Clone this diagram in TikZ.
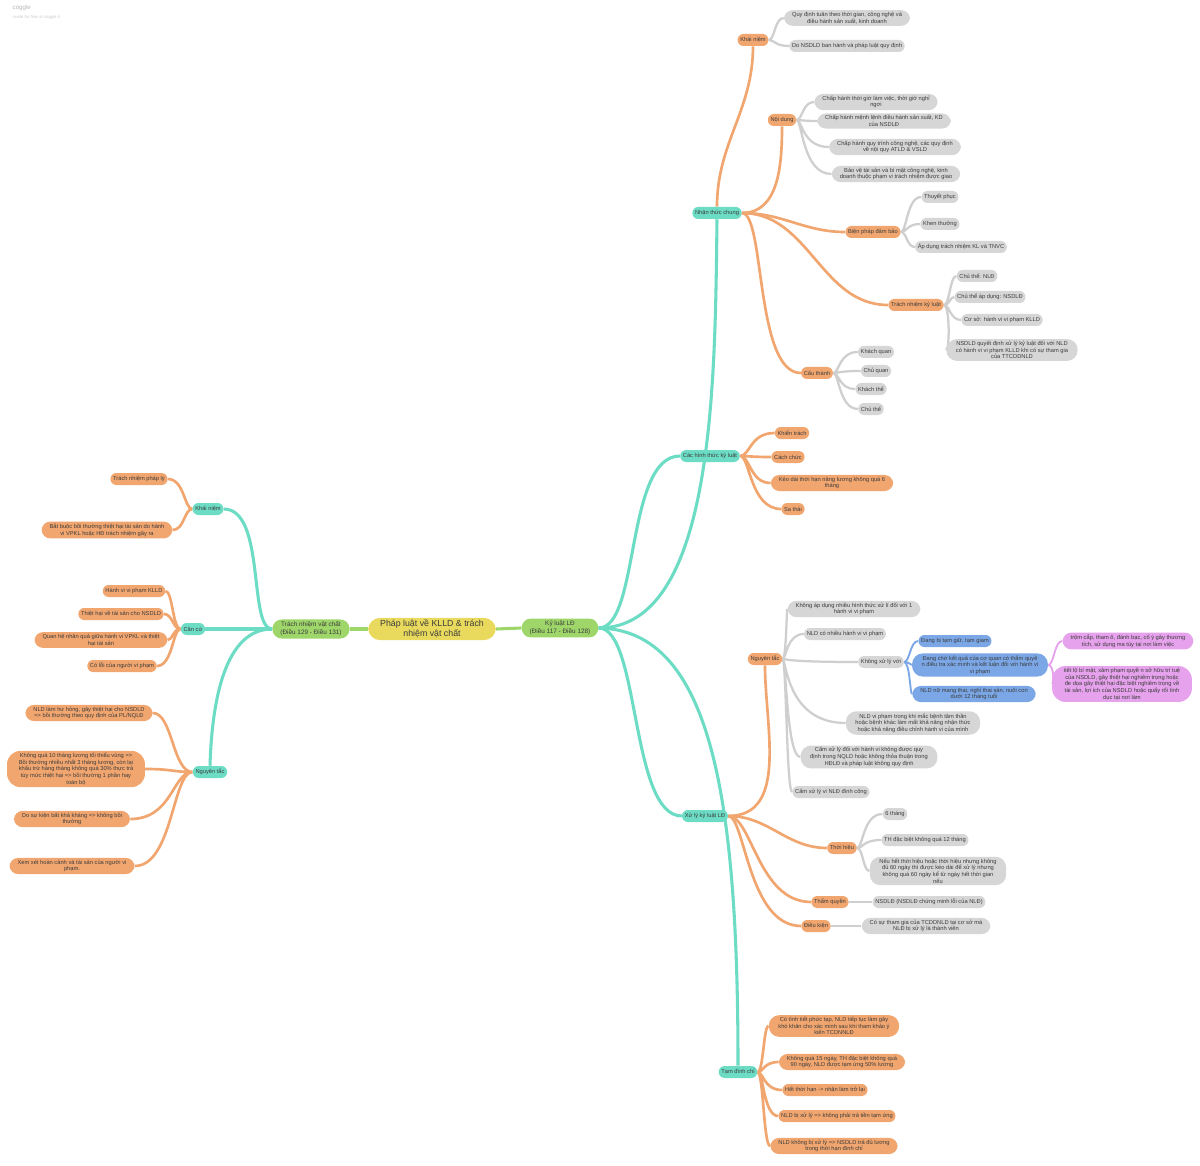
\documentclass[tikz,border=0pt]{standalone}
\usepackage{fontspec}
\setmainfont{Liberation Sans}
\usetikzlibrary{calc, backgrounds}

\definecolor{tealn}{HTML}{6CDCC5}
\definecolor{orangen}{HTML}{F2A66F}
\definecolor{grayn}{HTML}{D6D6D6}
\definecolor{grayl}{HTML}{CFCFCF}
\definecolor{greenn}{HTML}{9ED66A}
\definecolor{yellown}{HTML}{E9DA5D}
\definecolor{bluen}{HTML}{7BA7E6}
\definecolor{violetn}{HTML}{E6A2EC}
\definecolor{txt}{HTML}{3C3C3C}
\definecolor{mark}{HTML}{B8B8B8}

\begin{document}
\begin{tikzpicture}[
		x=0.75pt, y=-0.75pt, % one unit = one pixel of the map
		box/.style={
				rounded corners=4.4pt,
				inner xsep=2pt,
				inner ysep=1.5pt,
				minimum height=9pt,
				align=center,
				text=txt,
				font=\fontsize{4.3}{5}\selectfont
			},
		big/.style={rounded corners=6.5pt, inner xsep=6pt},  % two lines
		bigger/.style={rounded corners=8pt, inner xsep=7.2pt}, % three or four lines
		biggest/.style={rounded corners=10pt, inner xsep=8.8pt},
		tbox/.style={box, fill=tealn},
		obox/.style={box, fill=orangen},
		gbox/.style={box, fill=grayn},
		bbox/.style={box, fill=bluen},
		pbox/.style={box, fill=violetn},
		mainbox/.style={box, fill=greenn, inner xsep=6pt, inner ysep=1.7pt, rounded corners=7pt,
				font=\fontsize{4.8}{6.2}\selectfont},
		rootbox/.style={box, fill=yellown, inner xsep=9pt, inner ysep=1.6pt, rounded corners=9pt,
				font=\fontsize{6.6}{7.4}\selectfont},
		cline/.style={draw=greenn, line width=2.3pt},
		tline/.style={draw=tealn, line width=2.3pt},
		oline/.style={draw=orangen, line width=2pt},
		gline/.style={draw=grayl, line width=1.7pt},
		bline/.style={draw=bluen, line width=1.4pt},
		pline/.style={draw=violetn, line width=1.4pt},
		% brace-like branch: out of the parent, down a short trunk, into the child
		rbr/.style={to path={.. controls ($(\tikztostart)+(#1,0)$) and ($(\tikztostart|-\tikztotarget)+(#1,0)$) .. (\tikztotarget)}},
		rbr/.default=6,
		lbr/.style={to path={.. controls ($(\tikztostart)+(-#1,0)$) and ($(\tikztostart|-\tikztotarget)+(-#1,0)$) .. (\tikztotarget)}},
		lbr/.default=6
	]
	\useasboundingbox (0,0) rectangle (1200,1166);

	\node[anchor=west, text=mark, font=\fontsize{4.6}{5}\selectfont] (logo) at (8,8) {coggle};
	\node[anchor=west, text=mark!70, font=\fontsize{3.2}{4}\selectfont] (made) at (8,17) {made for free at coggle.it};

	% centre
	\node[rootbox] (root) at (432,629) {Pháp luật về KLLD \& trách\\nhiệm vật chất};
	\node[mainbox] (tv) at (311,629) {Trách nhiệm vật chất\\(Điều 129 - Điều 131)};
	\node[mainbox] (kl) at (560,628) {Kỷ luật LĐ\\(Điều 117 - Điều 128)};

	% Kỷ luật LĐ
	\node[tbox] (ntc) at (717,213) {Nhận thức chung};
	\node[tbox] (hk) at (710,456) {Các hình thức kỷ luật};
	\node[tbox] (xl) at (705,816) {Xử lý kỷ luật LĐ};
	\node[tbox] (tdc) at (738,1072) {Tạm đình chỉ};

	% Nhận thức chung
	\node[obox] (kn) at (753,40) {Khái niệm};
	\node[obox] (nd) at (782,120) {Nội dung};
	\node[obox] (bp) at (873,232) {Biện pháp đảm bảo};
	\node[obox] (tn) at (916,305) {Trách nhiệm kỷ luật};
	\node[obox] (ct) at (817,373) {Cấu thành};

	\node[gbox, big] (kn1) at (847,18) {Quy định tuân theo thời gian, công nghệ và\\điều hành sản xuất, kinh doanh};
	\node[gbox] (kn2) at (847,46) {Do NSDLD ban hành và pháp luật quy định};

	\node[gbox, big] (nd1) at (876,102) {Chấp hành thời giờ làm việc, thời giờ nghỉ\\ngơi};
	\node[gbox, big] (nd2) at (884,121) {Chấp hành mệnh lệnh điều hành sản xuất, KD\\của NSDLĐ};
	\node[gbox, big] (nd3) at (895,147) {Chấp hành quy trình công nghệ, các quy định\\về nội quy ATLD \& VSLD};
	\node[gbox, big] (nd4) at (896,174) {Bảo vệ tài sản và bí mật công nghệ, kinh\\doanh thuộc phạm vi trách nhiệm được giao};

	\node[gbox] (bp1) at (940,197) {Thuyết phục};
	\node[gbox] (bp2) at (940,224) {Khen thưởng};
	\node[gbox] (bp3) at (961,247) {Áp dụng trách nhiệm KL và TNVC};

	\node[gbox] (tn1) at (977,276) {Chủ thể: NLĐ};
	\node[gbox] (tn2) at (990,297) {Chủ thể áp dụng: NSDLĐ};
	\node[gbox] (tn3) at (1002,320) {Cơ sở: hành vi vi phạm KLLD};
	\node[gbox, bigger] (tn4) at (1012,350) {NSDLD quyết định xử lý kỷ luật đối với NLD\\có hành vi vi phạm KLLD khi có sự tham gia\\của TTCDDNLD};

	\node[gbox] (ct1) at (876,352) {Khách quan};
	\node[gbox] (ct2) at (876,371) {Chủ quan};
	\node[gbox] (ct3) at (871,389) {Khách thể};
	\node[gbox] (ct4) at (871,409) {Chủ thể};

	% Các hình thức kỷ luật
	\node[obox] (hk1) at (792,433) {Khiển trách};
	\node[obox] (hk2) at (788,457) {Cách chức};
	\node[obox, big] (hk3) at (832,483) {Kéo dài thời hạn nâng lương không quá 6\\tháng};
	\node[obox] (hk4) at (793,509) {Sa thải};

	% Xử lý kỷ luật LĐ
	\node[obox] (nt) at (765,659) {Nguyên tắc};
	\node[obox] (th) at (842,848) {Thời hiệu};
	\node[obox] (tq) at (830,902) {Thẩm quyền};
	\node[obox] (dk) at (816,926) {Điều kiện};

	\node[gbox, big] (nt1) at (854,609) {Không áp dụng nhiều hình thức xử lí đối với 1\\hành vi vi phạm};
	\node[gbox] (nt2) at (845,634) {NLD có nhiều hành vi vi phạm};
	\node[gbox] (nt3) at (881,662) {Không xử lý với};
	\node[gbox, bigger] (nt4) at (913,723) {NLD vi phạm trong khi mắc bệnh tâm thần\\hoặc bệnh khác làm mất khả năng nhận thức\\hoặc khả năng điều chỉnh hành vi của mình};
	\node[gbox, bigger] (nt5) at (869,757) {Cấm xử lý đối với hành vi không được quy\\định trong NQLD hoặc không thỏa thuận trong\\HĐLĐ và pháp luật không quy định};
	\node[gbox] (nt6) at (831,792) {Cấm xử lý vi NLĐ đình công};

	\node[bbox] (kx1) at (955,641) {Đang bị tạm giữ, tạm giam};
	\node[bbox, bigger] (kx2) at (980,665) {Đang chờ kết quả của cơ quan có thẩm quyề\\n điều tra xác minh và kết luận đối với hành vi\\vi phạm};
	\node[bbox, big] (kx3) at (974,694) {NLD nữ mang thai, nghỉ thai sản, nuôi con\\dưới 12 tháng tuổi};

	\node[pbox, big] (dc1) at (1128,641) {trộm cắp, tham ô, đánh bạc, cố ý gây thương\\tích, sử dụng ma túy tại nơi làm việc};
	\node[pbox, biggest] (dc2) at (1122,684) {tiết lộ bí mật, xâm phạm quyề n sở hữu trí tuệ\\của NSDLD, gây thiệt hại nghiêm trọng hoặc\\đe dọa gây thiệt hại đặc biệt nghiêm trọng về\\tài sản, lợi ích của NSDLD hoặc quấy rối tình\\dục tại nơi làm};

	\node[gbox] (th1) at (895,814) {6 tháng};
	\node[gbox] (th2) at (925,840) {TH đặc biệt không quá 12 tháng};
	\node[gbox, bigger] (th3) at (938,871) {Nếu hết thời hiệu hoặc thời hiệu nhưng không\\đủ 60 ngày thì được kéo dài để xử lý nhưng\\không quá 60 ngày kể từ ngày hết thời gian\\nếu};
	\node[gbox] (tq1) at (929,902) {NSDLĐ (NSDLĐ chứng minh lỗi của NLĐ)};
	\node[gbox, big] (dk1) at (926,926) {Có sự tham gia của TCDDNLD tại cơ sở mà\\NLĐ bị xử lý là thành viên};

	% Tạm đình chỉ
	\node[obox, bigger] (td1) at (834,1026) {Có tình tiết phức tạp, NLD tiếp tục làm gây\\khó khăn cho xác minh sau khi tham khảo ý\\kiến TCDNNLĐ};
	\node[obox, big] (td2) at (842,1062) {Không quá 15 ngày, TH đặc biệt không quá\\90 ngày, NLD được tạm ứng 50\% lương};
	\node[obox] (td3) at (825,1090) {Hết thời hạn -> nhận làm trở lại};
	\node[obox] (td4) at (837,1116) {NLD bị xử lý => không phải trả tiền tạm ứng};
	\node[obox, big] (td5) at (834,1146) {NLD không bị xử lý => NSDLD trả đủ lương\\trong thời hạn đình chỉ};

	% Trách nhiệm vật chất
	\node[tbox] (lkn) at (208,509) {Khái niệm};
	\node[tbox] (lcc) at (193,629) {Căn cứ};
	\node[tbox] (lnt) at (210,772) {Nguyên tắc};

	\node[obox] (lkn1) at (139,479) {Trách nhiệm pháp lý};
	\node[obox, big] (lkn2) at (107,530) {Bắt buộc bồi thường thiệt hại tài sản do hành\\vi VPKL hoặc HĐ trách nhiệm gây ra};

	\node[obox] (lcc1) at (134,591) {Hành vi vi phạm KLLD};
	\node[obox] (lcc2) at (121,614) {Thiệt hại về tài sản cho NSDLD};
	\node[obox, big] (lcc3) at (101,640) {Quan hệ nhân quả giữa hành vi VPKL và thiệt\\hại tài sản};
	\node[obox] (lcc4) at (122,666) {Có lỗi của người vi phạm};

	\node[obox, big] (lnt1) at (89,713) {NLD làm hư hỏng, gây thiệt hại cho NSDLD\\=> bồi thường theo quy định của PL/NQLĐ};
	\node[obox, biggest] (lnt2) at (76,769) {Không quá 10 tháng lương tối thiểu vùng =>\\Bồi thường nhiều nhất 3 tháng lương, còn lại\\khấu trừ hàng tháng không quá 30\% thực trả\\tùy mức thiệt hại => bồi thường 1 phần hay\\toàn bộ};
	\node[obox, big] (lnt3) at (72,819) {Do sự kiện bất khả kháng => không bồi\\thường};
	\node[obox, big] (lnt4) at (72,866) {Xem xét hoàn cảnh và tài sản của người vi\\phạm.};

	\begin{scope}[on background layer]
		\fill[white] (0,0) rectangle (1200,1166);

		\draw[cline] (root.west) -- (tv.east);
		\draw[cline] (root.east) -- (kl.west);

		\draw[tline] (kl.east) .. controls (715,628) and (715,380) .. (ntc.south);
		\draw[tline] (kl.east) .. controls (640,628) and (625,456) .. (hk.west);
		\draw[tline] (kl.east) .. controls (640,628) and (630,816) .. (xl.west);
		\draw[tline] (kl.east) .. controls (712,630) and (738,800) .. (tdc.north);

		\draw[tline] (tv.west) .. controls (248,629) and (266,509) .. (lkn.east);
		\draw[tline] (tv.west) -- (lcc.east);
		\draw[tline] (tv.west) .. controls (225,629) and (212,700) .. (lnt.north);

		% Nhận thức chung
		\draw[oline] (ntc.north) to[out=90, in=-90] (kn.south);
		\draw[oline] (ntc.east) to[out=0, in=-90] (nd.south);
		\draw[oline] (ntc.east) to[out=0, in=180] (bp.west);
		\draw[oline] (ntc.east) to[out=0, in=180] (tn.west);
		\draw[oline] (ntc.east) .. controls (765,213) and (755,373) .. (ct.west);

		\draw[gline] (kn.east) to[rbr] (kn1.west) (kn.east) to[rbr] (kn2.west);
		\draw[gline] (nd.east) to[rbr] (nd1.west) (nd.east) to[rbr] (nd2.west)
		(nd.east) to[rbr] (nd3.west) (nd.east) to[rbr] (nd4.west);
		\draw[gline] (bp.east) to[rbr] (bp1.west) (bp.east) to[rbr] (bp2.west)
		(bp.east) to[rbr] (bp3.west);
		\draw[gline] (tn.east) to[rbr] (tn1.west) (tn.east) to[rbr] (tn2.west)
		(tn.east) to[rbr] (tn3.west) (tn.east) to[rbr] (tn4.west);
		\draw[gline] (ct.east) to[rbr] (ct1.west) (ct.east) to[rbr] (ct2.west)
		(ct.east) to[rbr] (ct3.west) (ct.east) to[rbr] (ct4.west);

		% Các hình thức kỷ luật
		\draw[oline] (hk.east) to[rbr=10] (hk1.west) (hk.east) to[rbr=10] (hk2.west)
		(hk.east) to[rbr=10] (hk3.west) (hk.east) to[rbr=10] (hk4.west);

		% Xử lý kỷ luật LĐ
		\draw[oline] (xl.east) to[out=0, in=-90] (nt.south);
		\draw[oline] (xl.east) to[out=0, in=180] (th.west);
		\draw[oline] (xl.east) .. controls (752,816) and (758,902) .. (tq.west);
		\draw[oline] (xl.east) .. controls (745,816) and (748,926) .. (dk.west);

		\draw[gline] (nt.east) to[rbr=4] (nt1.west) (nt.east) to[rbr=4] (nt2.west)
		(nt.east) to[rbr=4] (nt3.west) (nt.east) to[rbr=4] (nt4.west)
		(nt.east) to[rbr=4] (nt5.west) (nt.east) to[rbr=4] (nt6.west);
		\draw[bline] (nt3.east) to[rbr] (kx1.west) (nt3.east) to[rbr] (kx2.west)
		(nt3.east) to[rbr] (kx3.west);
		\draw[pline] (kx2.east) to[rbr] (dc1.west) (kx2.east) to[rbr] (dc2.west);

		\draw[gline] (th.east) to[rbr] (th1.west) (th.east) to[rbr] (th2.west)
		(th.east) to[rbr] (th3.west);
		\draw[gline] (tq.east) -- (tq1.west);
		\draw[gline] (dk.east) -- (dk1.west);

		% Tạm đình chỉ
		\draw[oline] (tdc.east) to[rbr] (td1.west) (tdc.east) to[rbr] (td2.west)
		(tdc.east) to[rbr] (td3.west) (tdc.east) to[rbr] (td4.west)
		(tdc.east) to[rbr] (td5.west);

		% Trách nhiệm vật chất
		\draw[oline] (lkn.west) to[lbr=8] (lkn1.east) (lkn.west) to[lbr=8] (lkn2.east);
		\draw[oline] (lcc.west) to[lbr=8] (lcc1.east) (lcc.west) to[lbr=8] (lcc2.east)
		(lcc.west) to[lbr=8] (lcc3.east) (lcc.west) to[lbr=8] (lcc4.east);
		\draw[oline] (lnt.west) to[lbr=20] (lnt1.east) (lnt.west) to[lbr=20] (lnt2.east)
		(lnt.west) to[lbr=20] (lnt3.east) (lnt.west) to[lbr=20] (lnt4.east);
	\end{scope}
\end{tikzpicture}
\end{document}
